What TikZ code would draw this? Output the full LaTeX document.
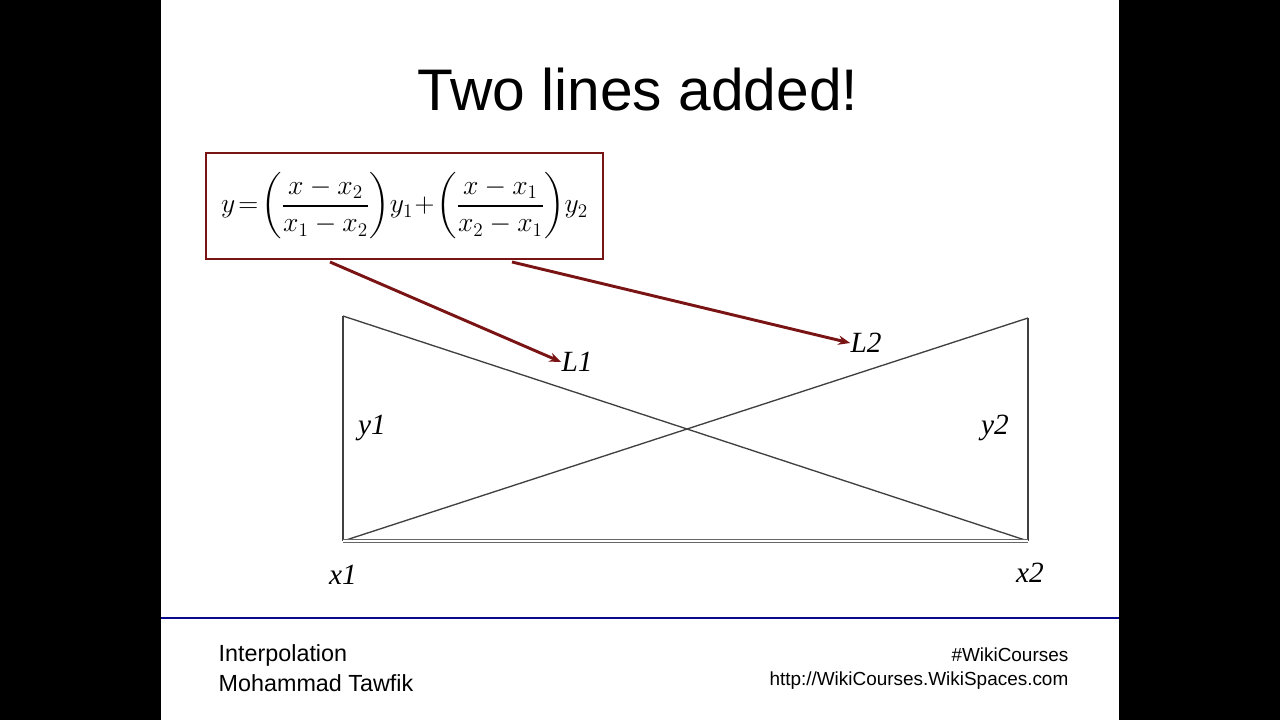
\documentclass[tikz,border=0pt]{standalone}
\usepackage{fontspec}
\setmainfont{Liberation Serif}
\newfontfamily\arialf{Liberation Sans}
\usepackage{amsmath}
\definecolor{dred}{HTML}{7A1414}
\definecolor{bblue}{HTML}{0A0A8C}
\tikzset{lbl/.style={font=\fontsize{22}{24}\selectfont\itshape, inner sep=0pt},
 arr/.style={draw=dred, line width=2.2pt, -{Stealth[length=9pt,width=7pt]}},
 edge/.style={draw=black!75, line width=1pt}}
\usetikzlibrary{arrows.meta}
\begin{document}
\begin{tikzpicture}[x=0.75pt,y=-0.75pt]
\useasboundingbox (0,0) rectangle (1280,720);
\fill[black] (0,0) rectangle (1280,720);
\fill[white] (161,0) rectangle (1119,720);
\draw[bblue, line width=2.2pt] (161,618) -- (1119,618);
\node[font=\arialf\fontsize{44}{48}\selectfont] (title) at (638,90) {Two lines added!};
\node[draw=dred, line width=2.2pt, minimum width=297.75pt, minimum height=79.5pt, inner sep=0pt] (eq) at (404.5,206)
 {\fontsize{21.5}{24}\selectfont $y\!=\!\left(\dfrac{x-x_2}{x_1-x_2}\right)\!y_1\!+\!\left(\dfrac{x-x_1}{x_2-x_1}\right)\!y_2$};
\coordinate (a) at (343,316); \coordinate (b) at (343,541);
\coordinate (c) at (1028,318); \coordinate (d) at (1028,541);
\draw[edge] (a) -- (b); \draw[edge] (c) -- (d);
\draw[edge] (a) -- (d); \draw[edge] (b) -- (c);
\draw[black!60, line width=3.5pt] (b) -- (d);
\draw[white, line width=1.2pt] (b) -- (d);
\node[lbl] (y1) at (372,428) {y1};
\node[lbl] (y2) at (995,428) {y2};
\node[lbl] (x1) at (343,575) {x1};
\node[lbl] (x2) at (1030,573) {x2};
\node[lbl] (L1) at (577,362) {L1};
\node[lbl] (L2) at (866,343) {L2};
\coordinate (s1) at (330,262); \coordinate (s2) at (512,262);
\draw[arr] (s1) -- (L1.west);
\draw[arr] (s2) -- (L2.west);
\node[font=\arialf\fontsize{17.5}{22}\selectfont, align=left, anchor=west] (foot) at (214,668) {Interpolation\\Mohammad Tawfik};
\node[font=\arialf\fontsize{14.2}{18}\selectfont, align=right, anchor=east] (web) at (1073,669) {\#WikiCourses\\http://WikiCourses.WikiSpaces.com};
\end{tikzpicture}
\end{document}
